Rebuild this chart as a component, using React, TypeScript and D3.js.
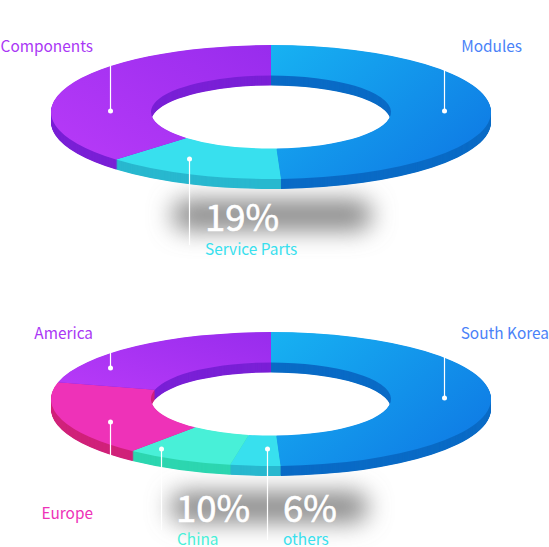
import React from "react";
import * as d3 from "d3";

// Slice extents (degrees of the ring, clockwise from 12 o'clock)
const topCategories = ["Modules", "Service Parts", "Components"];
const topValues = [177.4, 47.4, 135.2];
const bottomCategories = ["South Korea", "others", "China", "Europe", "America"];
const bottomValues = [177.5, 13.2, 28.4, 65.4, 75.5];

const faceColors: Record<string, string> = {
  "Modules": "url(#gBlue)", "South Korea": "url(#gBlue)",
  "Components": "url(#gPurple)", "America": "url(#gPurple)",
  "Service Parts": "#38e0ee", "others": "#38e0ee",
  "China": "#48f0d8", "Europe": "#ee32b8",
};
const sideColors: Record<string, string> = {
  "Modules": "#0a6bc6", "South Korea": "#0a6bc6",
  "Components": "#7a20d6", "America": "#7a20d6",
  "Service Parts": "#29b8cf", "others": "#29b8cf",
  "China": "#2dd6b0", "Europe": "#d0227a",
};

const labelsTop = [
  { text: "Components", x: 93, y: 52, anchor: "end", color: "#aa37f5" },
  { text: "Modules", x: 522, y: 52, anchor: "end", color: "#4a82f8" },
  { text: "Service Parts", x: 205, y: 255, anchor: "start", color: "#38e0ee" },
];
const labelsBottom = [
  { text: "America", x: 93, y: 339, anchor: "end", color: "#aa37f5" },
  { text: "South Korea", x: 549, y: 339, anchor: "end", color: "#4a82f8" },
  { text: "Europe", x: 93, y: 519, anchor: "end", color: "#ee32b8" },
  { text: "China", x: 177, y: 545, anchor: "start", color: "#48f0d8" },
  { text: "others", x: 283, y: 545, anchor: "start", color: "#38e0ee" },
];
const bigNumbers = [
  { text: "19%", x: 205, y: 231 },
  { text: "10%", x: 176, y: 522 },
  { text: "6%", x: 283, y: 522 },
];
const leaders = [
  { x: 110.5, dot: 111, end: 66 },
  { x: 444.5, dot: 111, end: 70 },
  { x: 189.5, dot: 159, end: 245 },
  { x: 110.5, dot: 368, end: 353 },
  { x: 444.5, dot: 398, end: 357 },
  { x: 110.5, dot: 422, end: 455 },
  { x: 161.5, dot: 449, end: 530 },
  { x: 267.5, dot: 449, end: 540 },
];
const shadows = [
  { x: 172, y: 200, w: 200, h: 30 },
  { x: 170, y: 492, w: 198, h: 30 },
];

const FONT = "'Noto Sans CJK KR', 'Noto Sans', sans-serif";
const CX = 271, RO = 220, RI = 120, SQUASH = 67 / 220, DEPTH = 10;

function Ring({ cats, vals, cy }: { cats: string[]; vals: number[]; cy: number }) {
  const slices = d3.pie<number>().sort(null)(vals);
  const arc = d3.arc<d3.PieArcDatum<number>>().innerRadius(RI).outerRadius(RO);
  const offsets = d3.range(DEPTH, 0, -0.5);
  return (
    <g>
      {offsets.map((o) =>
        slices.map((s, i) => (
          <path key={`${o}-${i}`} d={arc(s) as string} fill={sideColors[cats[i]]}
            transform={`translate(${CX},${cy + o}) scale(1,${SQUASH})`} />
        ))
      )}
      {slices.map((s, i) => (
        <path key={i} d={arc(s) as string} fill={faceColors[cats[i]]}
          transform={`translate(${CX},${cy}) scale(1,${SQUASH})`} />
      ))}
    </g>
  );
}

export default function App() {
  return (
    <svg width={549} height={547} viewBox="0 0 549 547"
      style={{ position: "absolute", left: 0, top: 0, fontFamily: FONT }}>
      <defs>
        <linearGradient id="gBlue" x1="0" y1="0" x2="1" y2="0.7">
          <stop offset="0" stopColor="#17b2f2" />
          <stop offset="1" stopColor="#0f7ce5" />
        </linearGradient>
        <linearGradient id="gPurple" x1="1" y1="0" x2="0" y2="0.8">
          <stop offset="0" stopColor="#982ced" />
          <stop offset="1" stopColor="#b539f7" />
        </linearGradient>
        <filter id="blur" filterUnits="userSpaceOnUse" x="100" y="150" width="350" height="397">
          <feGaussianBlur stdDeviation="12" />
        </filter>
      </defs>
      {shadows.map((s, i) => (
        <rect key={i} x={s.x} y={s.y} width={s.w} height={s.h} rx={15} fill="#868686" filter="url(#blur)" />
      ))}
      <Ring cats={topCategories} vals={topValues} cy={112} />
      <Ring cats={bottomCategories} vals={bottomValues} cy={399} />
      {leaders.map((l, i) => (
        <g key={i}>
          <line x1={l.x} x2={l.x} y1={l.dot} y2={l.end} stroke="#fff" strokeWidth={1.2} />
          <circle cx={l.x} cy={l.dot} r={2.5} fill="#fff" />
        </g>
      ))}
      {[...labelsTop, ...labelsBottom].map((l) => (
        <text key={l.text} x={l.x} y={l.y} textAnchor={l.anchor as any} fill={l.color} fontSize={15.4}>{l.text}</text>
      ))}
      {bigNumbers.map((b) => (
        <text key={b.text} x={b.x} y={b.y} fill="#fff" stroke="#fff" strokeWidth={0.6} fontSize={36.5}>{b.text}</text>
      ))}
    </svg>
  );
}
